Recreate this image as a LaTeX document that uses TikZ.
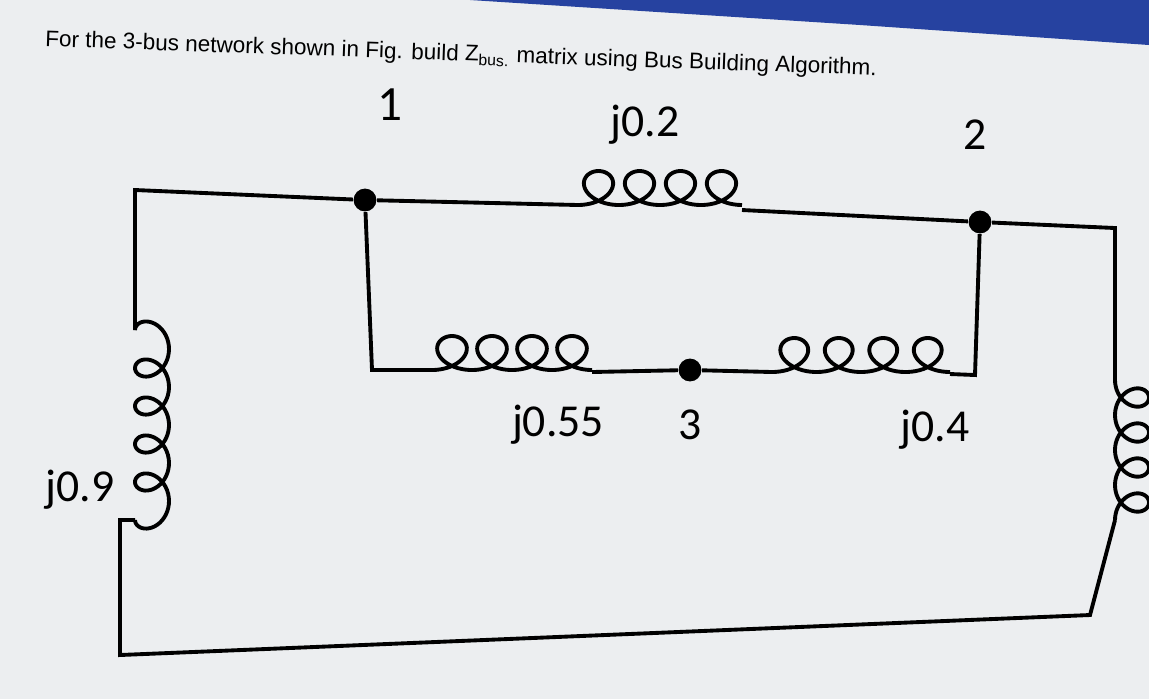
\documentclass[tikz,border=0pt]{standalone}
\usepackage{fontspec}
\setmainfont{Liberation Sans}
\newfontfamily\lab{Carlito}
\definecolor{barblue}{RGB}{38,66,160}
\definecolor{bg}{RGB}{236,238,240}
\newcommand\hcoil[4]{\draw[wire] plot[domain=0:#3*360,samples=200,smooth] ({#1+(#4/360)*\x+24*sin(\x)},{#2-17*(1-cos(\x))});}
\newcommand\vcoil[5]{\draw[wire] plot[domain=0:#3*360,samples=200,smooth] ({#1+#5*17*(1-cos(\x))},{#2+(#4/360)*\x+17*sin(\x)});}
\begin{document}
\begin{tikzpicture}[x=0.01cm,y=-0.01cm,
  wire/.style={line width=1.1pt,black},
  dot/.style={circle,fill=black,inner sep=0pt,minimum size=6.5pt},
  lbl/.style={font=\lab\fontsize{13}{15}\selectfont}]
\useasboundingbox (0,0) rectangle (1149,699);
\fill[bg] (0,0) rectangle (1149,699);
\fill[barblue] (470,0) -- (1149,0) -- (1149,45) -- (860,25) -- cycle;
\node[anchor=west,font=\fontsize{6.4}{8}\selectfont,rotate=-2] (title) at (33,40)
  {For the 3-bus network shown in Fig. build Z\textsubscript{bus.} matrix using Bus Building Algorithm.};
% coordinates
\coordinate (tl) at (135,190);
\node[dot] (b1) at (365,200) {};
\coordinate (c1a) at (578,205);
\coordinate (c1b) at (742,210);
\node[dot] (b2) at (980,222) {};
\coordinate (tr) at (1115,228);
\coordinate (r1) at (1115,380);
\coordinate (r2) at (1115,520);
\coordinate (br) at (1090,615);
\coordinate (bl) at (120,655);
\coordinate (l1) at (120,520);
\coordinate (l2) at (135,330);
\coordinate (m1) at (372,370);
\coordinate (c2a) at (432,370);
\coordinate (c2b) at (592,372);
\node[dot] (b3) at (690,370) {};
\coordinate (c3a) at (772,372);
\coordinate (c3b) at (950,374);
\coordinate (m2) at (975,375);
% wires
\draw[wire] (l2) -- (tl) -- (b1) -- (c1a);
\draw[wire] (c1b) -- (b2) -- (tr) -- (r1);
\draw[wire] (r2) -- (br) -- (bl) -- (l1) -- (135,520);
\draw[wire] (b1) -- (m1) -- (c2a);
\draw[wire] (c2b) -- (b3) -- (c3a);
\draw[wire] (c3b) -- (m2) -- (b2);
% coils
\hcoil{578}{205}{4}{41}
\hcoil{432}{370}{4}{40}
\hcoil{772}{372}{4}{44.5}
\vcoil{135}{520}{5}{-38}{1}
\vcoil{1115}{380}{4}{35}{1}
% labels
\node[lbl,font=\lab\fontsize{14}{16}\selectfont] (n1) at (390,105) {1};
\node[lbl] (lj02) at (645,125) {j0.2};
\node[lbl] (n2) at (975,135) {2};
\node[lbl] (lj055) at (558,425) {j0.55};
\node[lbl] (n3) at (690,425) {3};
\node[lbl] (lj04) at (935,430) {j0.4};
\node[lbl] (lj09) at (80,490) {j0.9};
\end{tikzpicture}
\end{document}
